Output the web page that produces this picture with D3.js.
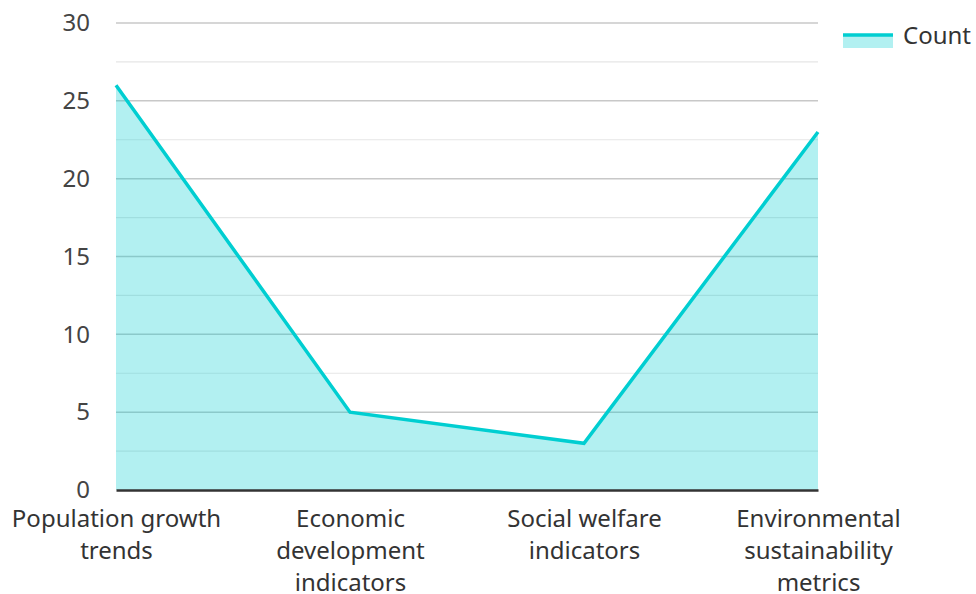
<!DOCTYPE html>
<html>
<head>
<meta charset="utf-8">
<script src="https://cdn.jsdelivr.net/npm/d3@7"></script>
<style>
  body { margin: 0; background: #fff; }
  text { font-family: "Noto Sans", "Open Sans", sans-serif; }
</style>
</head>
<body>
<svg id="chart" width="976" height="594"></svg>
<script>
// data
var categories = [
  ["Population growth", "trends"],
  ["Economic", "development", "indicators"],
  ["Social welfare", "indicators"],
  ["Environmental", "sustainability", "metrics"]
];
var counts = [26, 5, 3, 23];
var yTicks = [0, 5, 10, 15, 20, 25, 30];
var seriesName = "Count";

var svg = d3.select("#chart"),
    margin = {top: 23, right: 158, bottom: 104, left: 116},
    width = +svg.attr("width") - margin.left - margin.right,
    height = +svg.attr("height") - margin.top - margin.bottom,
    g = svg.append("g").attr("transform", "translate(" + margin.left + "," + margin.top + ")");

var lineColor = "#00ced1";

var x = d3.scalePoint()
  .domain(d3.range(categories.length))
  .range([0, width])
  .padding(0);

var y = d3.scaleLinear()
  .domain([0, 30])
  .range([height, 0]);

// minor gridlines
g.append("g")
  .selectAll("line")
  .data(d3.range(2.5, 30, 5))
  .enter().append("line")
  .attr("x1", 0).attr("x2", width)
  .attr("y1", function(d) { return y(d); })
  .attr("y2", function(d) { return y(d); })
  .attr("stroke", "#e6e6e6")
  .attr("stroke-width", 1.2);

// major gridlines
g.append("g")
  .selectAll("line")
  .data(yTicks.slice(1))
  .enter().append("line")
  .attr("x1", 0).attr("x2", width)
  .attr("y1", function(d) { return y(d); })
  .attr("y2", function(d) { return y(d); })
  .attr("stroke", "#c8c8c8")
  .attr("stroke-width", 1.5);

var area = d3.area()
  .x(function(d, i) { return x(i); })
  .y0(height)
  .y1(function(d) { return y(d); });

var line = d3.line()
  .x(function(d, i) { return x(i); })
  .y(function(d) { return y(d); });

g.append("path")
  .datum(counts)
  .attr("d", area)
  .attr("fill", lineColor)
  .attr("fill-opacity", 0.3);

g.append("path")
  .datum(counts)
  .attr("d", line)
  .attr("fill", "none")
  .attr("stroke", lineColor)
  .attr("stroke-width", 3.5)
  .attr("stroke-linejoin", "miter");

// y axis labels
var yAxis = g.append("g")
  .call(d3.axisLeft(y).tickValues(yTicks).tickSize(0).tickPadding(26));
yAxis.select(".domain").remove();
yAxis.selectAll("text")
  .attr("font-family", "'Noto Sans', 'Open Sans', sans-serif")
  .attr("font-size", 24)
  .attr("fill", "#444");

// x axis
var xAxis = g.append("g")
  .attr("transform", "translate(0," + height + ")")
  .call(d3.axisBottom(x).tickSize(0).tickFormat(""));
xAxis.select(".domain")
  .attr("stroke", "#333")
  .attr("stroke-width", 2.5);

xAxis.selectAll(".tick").each(function(d) {
  var t = d3.select(this).append("text")
    .attr("text-anchor", "middle")
    .attr("font-size", 24)
    .attr("fill", "#333")
    .attr("y", 37);
  categories[d].forEach(function(s, i) {
    t.append("tspan").attr("x", 0).attr("dy", i === 0 ? 0 : 32).text(s);
  });
});

// legend
var legend = svg.append("g").attr("transform", "translate(843,35)");
legend.append("rect")
  .attr("x", 0).attr("y", 0)
  .attr("width", 50).attr("height", 13)
  .attr("fill", lineColor).attr("fill-opacity", 0.3);
legend.append("line")
  .attr("x1", 0).attr("x2", 50)
  .attr("y1", 0).attr("y2", 0)
  .attr("stroke", lineColor)
  .attr("stroke-width", 3.5);
legend.append("text")
  .attr("x", 60).attr("y", 9)
  .attr("font-size", 24)
  .attr("fill", "#333")
  .text(seriesName);
</script>
</body>
</html>
